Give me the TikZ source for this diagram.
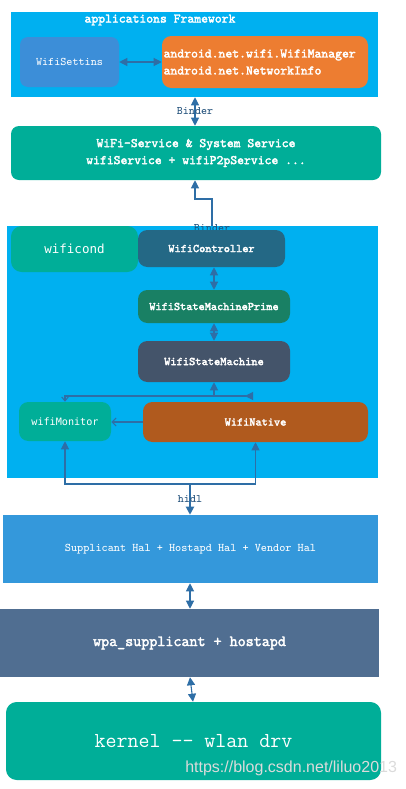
\documentclass[tikz,border=0pt]{standalone}
\usepackage{fontspec}
\setmonofont[BoldFont={Latin Modern Mono}, BoldFeatures={FakeBold=2.5}]{Latin Modern Mono}
\setsansfont{Liberation Sans}
\newfontfamily\dvmono{DejaVu Sans Mono}
\usepackage{xcolor}
\usetikzlibrary{arrows.meta, positioning, calc}
\definecolor{skyblue}{RGB}{0,176,240}
\definecolor{setblue}{RGB}{60,142,216}
\definecolor{mgrorange}{RGB}{237,125,49}
\definecolor{teal}{RGB}{0,174,152}
\definecolor{ctrlblue}{RGB}{36,104,133}
\definecolor{primegreen}{RGB}{25,128,100}
\definecolor{slate}{RGB}{68,84,106}
\definecolor{nativebrown}{RGB}{176,90,30}
\definecolor{halblue}{RGB}{52,152,219}
\definecolor{wpablue}{RGB}{80,110,145}
\definecolor{linkblue}{RGB}{46,110,166}
\definecolor{lbldark}{RGB}{31,78,121}
\def\pxs{0.75pt}
\newcommand{\fmono}[1]{\ttfamily\bfseries\fontsize{#1}{12.75}\selectfont}
\newcommand{\fmonor}[1]{\ttfamily\fontsize{#1}{12.75}\selectfont}
\newcommand{\fdv}[1]{\dvmono\fontsize{#1}{12}\selectfont}
\tikzstyle{link} = [draw=linkblue, line width=0.8pt, >={Triangle[length=6pt,width=6pt]}]
\tikzset{
  blk/.style={rectangle, inner sep=0pt, text=white, align=center},
  bx/.style 2 args={minimum width=#1*\pxs, minimum height=#2*\pxs},
  lbl/.style={inner sep=0pt, text=lbldark, font=\fmonor{8.6}},
}

\begin{document}
\begin{tikzpicture}[x=\pxs, y=-\pxs]
\useasboundingbox (0,0) rectangle (406,789);
% applications layer
\node[blk, fill=skyblue, bx={367}{85}] (framework) at (194.5,54.5) {};
\node[text=white, font=\fmono{9.8}] (frametitle) at (160,20) {applications Framework};
\node[blk, fill=setblue, rounded corners=6pt, bx={99}{50}, font=\fmonor{8.7}] (settings) at (69.5,62) {WifiSettins};
\node[blk, fill=mgrorange, rounded corners=7pt, bx={206}{52}, text width=152pt, align=left, font=\fmono{9.8}] (manager) at (265,62) {android.net.wifi.WifiManager\\android.net.NetworkInfo};
\draw[link,<->] (settings) -- (manager);

% system service
\node[blk, fill=teal, rounded corners=6pt, bx={370}{54}, font=\fmono{9.8}] (service) at (196,153) {WiFi-Service \& System Service\\wifiService + wifiP2pService ...};
\draw[link,<->] (framework.south -| 195,0) -- node[lbl] (binder1) {Binder} (service.north -| 195,0);

\coordinate (binderfoot) at (212,232);
\coordinate (binderbend) at (195,199);
\draw[link,->] (binderfoot) |- (binderbend) -- (binderbend |- service.south);

% wifi framework layer
\node[blk, fill=skyblue, bx={371}{252}] (wifilayer) at (192.5,352) {};
\node[lbl] (binder2) at (212,228) {Binder};
\node[blk, fill=teal, rounded corners=8pt, bx={127}{46}, font=\fdv{9.4}] (wificond) at (74.5,249) {wificond};
\node[blk, fill=ctrlblue, rounded corners=7pt, bx={147}{37}, font=\fmono{8.8}] (controller) at (211.5,248.5) {WifiController};
\node[blk, fill=primegreen, rounded corners=7pt, bx={152}{33}, font=\fmono{8.8}] (prime) at (214,306.5) {WifiStateMachinePrime};
\node[blk, fill=slate, rounded corners=7pt, bx={152}{41}, font=\fmono{8.9}] (statemachine) at (214,361.5) {WifiStateMachine};
\node[blk, fill=teal, rounded corners=7pt, bx={92}{39}, font=\fdv{7.6}] (monitor) at (65,421.5) {wifiMonitor};
\node[blk, fill=nativebrown, rounded corners=7pt, bx={225}{40}, font=\fmono{8.8}] (native) at (255.5,422) {WifiNative};

\draw[link,<->] (controller.south -| prime.north) -- (prime.north);
\draw[link,<->] (prime.south) -- (statemachine.north);

\coordinate (busL) at (65,396);
\coordinate (busR) at (253,396);
\draw[link, {Triangle[reversed,length=6pt,width=6pt]}-{Straight Barb[length=3pt,width=5pt]}] (busR) -- (busL) -- (monitor.north);
\draw[link,->] (statemachine.south |- busL) -- (statemachine.south);
\draw[link, -{Straight Barb[length=3pt,width=6pt]}] (native.west) -- (native.west -| monitor.east);

\coordinate (hidlbus) at (190,484);
\draw[link,<->] (monitor.south) |- (hidlbus) -| (native.south);

% hal and below
\node[blk, fill=halblue, bx={375}{68}, font=\fmonor{8.75}] (hal) at (190.5,549) {Supplicant Hal + Hostapd Hal + Vendor Hal};
\node[blk, fill=wpablue, bx={379}{68}, font=\fmono{11.7}] (wpa) at (189.5,643) {wpa\_supplicant + hostapd};
\node[blk, fill=teal, rounded corners=8pt, bx={375}{78}, font=\fmonor{16}] (kernel) at (193.5,741) {kernel -- wlan drv};

\draw[link, line width=1.4pt, ->] (hidlbus) -- node[lbl] (hidl) {hidl} (hidlbus |- hal.north);
\draw[link,<->] (hal.south -| hidlbus) -- (wpa.north -| hidlbus);
\draw[link,<->] (wpa.south -| hidlbus) -- (kernel.north -| 193,0);

\node[anchor=west, inner sep=0pt, text=white!72!gray, font=\sffamily\fontsize{12}{14}\selectfont] (mark) at (185,768) {https://blog.csdn.net/liluo2013};
\end{tikzpicture}
\end{document}
